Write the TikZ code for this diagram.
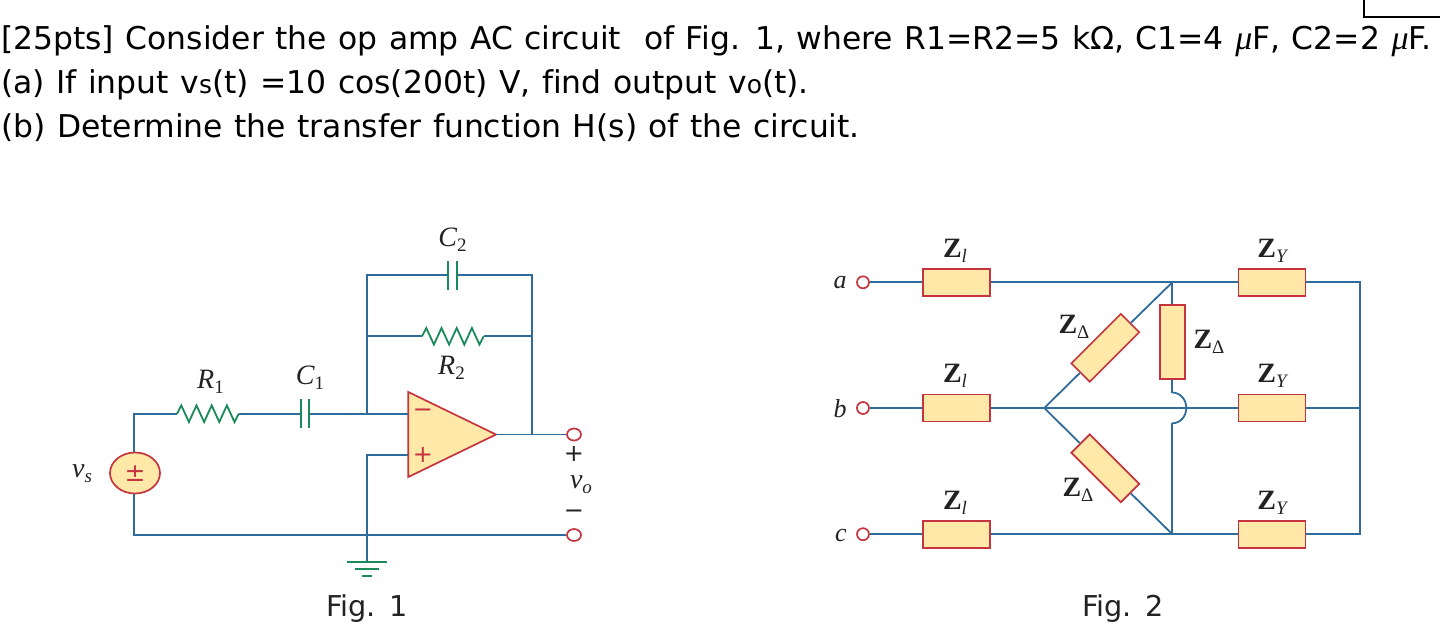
\documentclass[tikz,border=0pt]{standalone}
\usepackage{fontspec}
\setmainfont[Ligatures=NoCommon,WordSpace=1.15]{DejaVu Sans}
\newfontfamily\serifl{Liberation Serif}
\usetikzlibrary{shapes.geometric}
\definecolor{wire}{HTML}{2F6C9C}
\definecolor{part}{HTML}{1B8A5A}
\definecolor{edge}{HTML}{C5343F}
\definecolor{cream}{HTML}{FFE8A8}
\definecolor{ink}{HTML}{222222}
\newcommand{\zigzagpath}{-- ++(4.3,-8.3) -- ++(7.6,16.6) -- ++(7.6,-16.6) -- ++(7.6,16.6) -- ++(7.6,-16.6) -- ++(7.6,16.6) -- ++(7.6,-16.6) -- ++(7.6,16.6) -- ++(4.2,-8.3)}
\newcommand{\lowsub}[1]{\raisebox{-5pt}{\fontsize{19}{20}\selectfont #1}}
\newcommand{\smsub}[1]{{\fontsize{25}{26}\selectfont #1}}
\newcommand{\mufont}{{\serifl\itshape\fontsize{34}{36}\selectfont μ}}
\tikzset{
  conn/.style={draw=wire,line width=1.8pt},
  green part/.style={draw=part,line width=1.8pt},
  imp/.style={draw=edge,fill=cream,line width=1.7pt,minimum width=67pt,minimum height=27pt,inner sep=0pt,rectangle},
  term/.style={draw=edge,fill=white,line width=1.7pt,circle,minimum size=12pt,inner sep=0pt},
  termb/.style={draw=edge,fill=white,line width=1.7pt,ellipse,minimum width=14pt,minimum height=12pt,inner sep=0pt},
  qtext/.style={anchor=base west,inner sep=0pt,text=black,font=\fontsize{31.4}{36}\selectfont},
  figt/.style={anchor=base,inner sep=0pt,text=ink,font=\fontsize{28.7}{32}\selectfont},
  mlab/.style={inner sep=0pt,text=ink,font=\serifl\fontsize{28}{30}\selectfont},
  mletter/.style={inner sep=0pt,text=ink,font=\serifl\itshape\fontsize{26}{28}\selectfont},
  redsign/.style={inner sep=0pt,text=edge},
}
\begin{document}
\begin{tikzpicture}[x=1pt,y=-1pt]
\useasboundingbox (0,0) rectangle (1440,633);
% corner mark
\coordinate (ma) at (1364,0); \coordinate (mb) at (1364,16.5); \coordinate (mc) at (1440,16.5);
\draw[black,line width=2pt] (ma) -- (mb) -- (mc);
% text
\node[qtext] (q1) at (1,49) {[25pts] Consider the op amp AC circuit\ \ of Fig. 1, where R1=R2=5 kΩ, C1=4 \mufont F, C2=2 \mufont F.};
\node[qtext] (q2) at (1,93) {(a) If input v\smsub{s}(t) =10 cos(200t) V, find output v\smsub{o}(t).};
\node[qtext] (q3) at (1,137) {(b) Determine the transfer function H(s) of the circuit.};
\node[figt] (f1) at (367,616) {Fig. 1};
\node[figt] (f2) at (1123,616) {Fig. 2};
% Fig 1 parts
\node[draw=edge,fill=cream,line width=1.7pt,ellipse,minimum width=50pt,minimum height=41pt,inner sep=0pt] (src) at (135,473) {};
\node[redsign,font=\fontsize{25}{25}\selectfont] (spm) at (135,473.5) {±};
\coordinate (oat) at (408.3,392); \coordinate (oab) at (408.3,477); \coordinate (tip) at (496,434.5);
\draw[draw=edge,fill=cream,line width=1.7pt] (oat) -- (tip) -- (oab) -- cycle;
\node[redsign,font=\fontsize{24}{24}\selectfont] (oam) at (423,413.5) {−};
\node[redsign,font=\fontsize{24}{24}\selectfont] (oap) at (423,455) {+};
\node[termb] (t1) at (574,434.5) {};
\node[termb] (t2) at (574,535) {};
\coordinate (tl) at (134,413.7);
\coordinate (bl) at (134,535);
\coordinate (r1a) at (177,413.7); \coordinate (r1b) at (239,413.7);
\coordinate (c1a) at (300.7,413.7); \coordinate (c1b) at (309,413.7);
\coordinate (jm) at (367,413.7); \coordinate (oin) at (408,413.7);
\coordinate (ip) at (408,455); \coordinate (ipw) at (367,455);
\coordinate (ct) at (367,275.3); \coordinate (rt) at (531.7,275.3);
\coordinate (c2a) at (447.7,275.3); \coordinate (c2b) at (456.7,275.3);
\coordinate (r2a) at (422,336.3); \coordinate (r2b) at (483.5,336.3);
\coordinate (r2l) at (367,336.3); \coordinate (r2r) at (531.7,336.3);
\coordinate (tpo) at (531.7,434.5);
\coordinate (gj) at (367,535); \coordinate (g1) at (367,561.7);
\draw[conn] (src.north -| tl) -- (tl) -- (r1a);
\draw[conn] (r1b) -- (c1a);
\draw[conn] (c1b) -- (jm) -- (oin);
\draw[conn] (jm) -- (ct) -- (c2a);
\draw[conn] (c2b) -- (rt) -- (tpo);
\draw[conn] (r2l) -- (r2a);
\draw[conn] (r2b) -- (r2r);
\draw[conn] (tip) -- (t1);
\draw[conn] (ip) -- (ipw) -- (gj);
\draw[conn] (src.south -| bl) -- (bl) -- (t2);
\draw[conn] (gj) -- (g1);
\draw[green part] (r1a) \zigzagpath;
\draw[green part] (r2a) \zigzagpath;
\draw[green part] (c1a) ++(0,-14.3) -- ++(0,28.6);
\draw[green part] (c1b) ++(0,-14.3) -- ++(0,28.6);
\draw[green part] (c2a) ++(0,-14.3) -- ++(0,28.6);
\draw[green part] (c2b) ++(0,-14.3) -- ++(0,28.6);
\draw[green part] (g1) ++(-20,0) -- ++(40,0);
\draw[green part] (g1) ++(-12,7.3) -- ++(24,0);
\draw[green part] (g1) ++(-5,14.6) -- ++(10,0);
\node[mlab] (lr1) at (210.5,382) {\itshape R\lowsub{\upshape 1}};
\node[mlab] (lc1) at (310,378) {\itshape C\lowsub{\upshape 1}};
\node[mlab] (lc2) at (452.5,240) {\itshape C\lowsub{\upshape 2}};
\node[mlab] (lr2) at (451.5,367.5) {\itshape R\lowsub{\upshape 2}};
\node[mlab] (lvs) at (82,474) {\itshape v\lowsub{s}};
\node[mlab] (lvo) at (581,485) {\itshape v\lowsub{o}};
\node[inner sep=0pt,text=ink,font=\fontsize{24}{24}\selectfont] (vp) at (574,454) {+};
\node[inner sep=0pt,text=ink,font=\fontsize{24}{24}\selectfont] (vm) at (574,514) {−};
% Fig 2
\node[term] (ta) at (863,282.3) {};
\node[term] (tb) at (863,408) {};
\node[term] (tc) at (863,534.2) {};
\node[imp] (la) at (956.2,282.3) {};
\node[imp] (lb) at (956.2,408) {};
\node[imp] (lc) at (956.2,534.2) {};
\node[imp] (ya) at (1272,282.3) {};
\node[imp] (yb) at (1272,408) {};
\node[imp] (yc) at (1272,534.2) {};
\node[imp,minimum width=25pt,minimum height=74pt] (dv) at (1172.3,342) {};
\node[imp,minimum width=70pt,minimum height=26pt,rotate=45] (d1) at (1105.3,347.8) {};
\node[imp,minimum width=70pt,minimum height=26pt,rotate=-45] (d2) at (1105.3,468.3) {};
\coordinate (nt) at (1172.3,282.3);
\coordinate (nl) at (1044.3,408);
\coordinate (nb) at (1172.3,534.2);
\coordinate (ra) at (1360,282.3);
\coordinate (rb) at (1360,408);
\coordinate (rc) at (1360,534.2);
\coordinate (hopa) at (1172.3,392.5);
\coordinate (hopb) at (1172.3,423.3);
\draw[conn] (ta) -- (la);
\draw[conn] (tb) -- (lb);
\draw[conn] (tc) -- (lc);
\draw[conn] (la) -- (ya);
\draw[conn] (lb) -- (yb);
\draw[conn] (lc) -- (yc);
\draw[conn] (ya) -- (ra) -- (rc) -- (yc);
\draw[conn] (yb) -- (rb);
\draw[conn] (nt) -- (dv);
\draw[conn] (dv) -- (hopa);
\draw[conn] (hopa) arc[start angle=-90,end angle=90,x radius=14,y radius=15.4];
\draw[conn] (hopb) -- (nb);
\draw[conn] (nt) -- (d1);
\draw[conn] (d1) -- (nl);
\draw[conn] (nl) -- (d2);
\draw[conn] (d2) -- (nb);
\node[mlab] (zl1) at (955,251) {\bfseries Z\lowsub{\mdseries\itshape l}};
\node[mlab] (zl2) at (955,376) {\bfseries Z\lowsub{\mdseries\itshape l}};
\node[mlab] (zl3) at (955,503) {\bfseries Z\lowsub{\mdseries\itshape l}};
\node[mlab] (zy1) at (1272,251) {\bfseries Z\lowsub{\mdseries\itshape Y}};
\node[mlab] (zy2) at (1272,376) {\bfseries Z\lowsub{\mdseries\itshape Y}};
\node[mlab] (zy3) at (1272,503) {\bfseries Z\lowsub{\mdseries\itshape Y}};
\node[mlab] (zd1) at (1074,326.5) {\bfseries Z\lowsub{\mdseries Δ}};
\node[mlab] (zd2) at (1209,342) {\bfseries Z\lowsub{\mdseries Δ}};
\node[mlab] (zd3) at (1078,489.5) {\bfseries Z\lowsub{\mdseries Δ}};
\node[mletter] (la1) at (840,283) {a};
\node[mletter] (la2) at (840,409) {b};
\node[mletter] (la3) at (841,535) {c};
\end{tikzpicture}
\end{document}
